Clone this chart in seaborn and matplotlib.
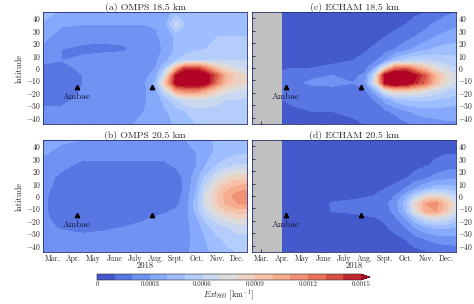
import numpy as np
import matplotlib
matplotlib.use("Agg")
import matplotlib.pyplot as plt
import seaborn as sns

# ---------------- data (extinction in units of 1e-4 km^-1) ----------------
lats = [45, 35, 25, 15, 6, 0, -6, -12, -18, -25, -35, -45]
omps_days = [46, 74, 105, 135, 166, 196, 213, 227, 244, 258, 274, 288, 305, 319, 335, 349]
echam_days = [91, 105, 135, 166, 196, 213, 227, 244, 258, 274, 288, 305, 319, 335, 349]

month_ticks = [60, 91, 121, 152, 182, 213, 244, 274, 305, 335]
month_labels = ["Mar.", "Apr.", "May", "June", "July", "Aug.", "Sept.", "Oct.", "Nov.", "Dec."]
lat_ticks = [-40, -30, -20, -10, 0, 10, 20, 30, 40]
eruption_days = [96, 208]
eruption_lats = [-15.4, -15.4]
cbar_ticks = [0, 0.0003, 0.0006, 0.0009, 0.0012, 0.0015]
cbar_labels = ["0", "0.0003", "0.0006", "0.0009", "0.0012", "0.0015"]

omps_185 = [
    [4.5, 3.8, 3.3, 3.2, 3.2, 3.2, 3.3, 3.6, 4.3, 4.5, 4.5, 4.5, 4.5, 4.5, 4.5, 4.5],
    [3.8, 3.1, 3.0, 3.0, 3.0, 3.0, 3.1, 3.6, 6.5, 4.8, 4.5, 4.5, 4.6, 4.6, 4.6, 4.6],
    [3.2, 2.6, 2.3, 2.2, 2.2, 2.5, 2.8, 3.3, 4.2, 4.5, 4.6, 4.8, 5.0, 5.0, 5.0, 5.0],
    [2.8, 2.0, 1.8, 1.8, 1.9, 2.4, 2.6, 3.2, 4.2, 4.6, 4.8, 5.0, 5.3, 5.5, 5.5, 5.5],
    [2.4, 2.0, 2.2, 2.4, 2.4, 2.5, 2.8, 3.6, 5.0, 5.5, 6.0, 6.0, 6.0, 6.0, 6.0, 6.0],
    [1.6, 1.6, 2.3, 2.5, 2.5, 2.5, 3.0, 5.0, 10.0, 14.0, 14.0, 12.0, 9.0, 8.0, 7.0, 6.5],
    [1.3, 1.3, 2.0, 2.5, 2.5, 2.6, 3.5, 7.0, 15.5, 17.0, 17.0, 16.0, 13.0, 10.0, 8.5, 8.0],
    [1.3, 1.3, 2.0, 2.5, 2.5, 2.8, 4.2, 9.0, 16.0, 17.0, 17.0, 16.0, 12.0, 9.5, 8.5, 8.0],
    [1.4, 1.3, 2.1, 2.5, 2.5, 2.8, 3.6, 6.5, 11.0, 12.0, 12.0, 10.5, 8.5, 7.5, 7.0, 6.5],
    [1.6, 1.6, 2.3, 2.5, 2.6, 2.9, 3.3, 4.5, 6.0, 7.0, 7.0, 7.0, 6.5, 6.0, 6.0, 5.8],
    [2.3, 2.3, 2.5, 2.6, 2.7, 3.0, 3.2, 3.8, 4.5, 5.0, 5.5, 5.5, 5.5, 5.5, 5.5, 5.5],
    [2.6, 2.6, 2.7, 2.8, 2.9, 3.1, 3.3, 3.6, 4.2, 4.5, 5.0, 5.0, 5.0, 5.0, 5.0, 5.0],
]

omps_205 = [
    [3.6, 3.2, 3.0, 2.8, 2.6, 2.6, 2.6, 2.6, 2.8, 3.0, 3.3, 3.7, 4.2, 4.5, 4.6, 4.6],
    [3.2, 2.6, 2.3, 2.2, 2.2, 2.2, 2.2, 2.2, 2.3, 2.6, 3.0, 3.6, 4.2, 4.5, 4.8, 4.8],
    [2.5, 2.2, 1.8, 1.9, 1.9, 1.9, 1.9, 1.9, 2.1, 2.4, 3.0, 4.0, 5.0, 5.5, 6.0, 6.0],
    [2.3, 1.8, 1.6, 1.6, 1.6, 1.6, 1.6, 1.6, 1.7, 2.2, 3.6, 5.2, 7.0, 8.0, 8.5, 8.5],
    [2.2, 1.7, 1.5, 1.5, 1.5, 1.5, 1.5, 1.5, 1.6, 2.2, 4.0, 6.5, 8.5, 9.8, 10.5, 10.8],
    [2.1, 1.7, 1.5, 1.5, 1.5, 1.5, 1.5, 1.5, 1.7, 2.3, 4.4, 7.0, 9.0, 10.5, 11.5, 11.8],
    [2.1, 1.7, 1.5, 1.5, 1.5, 1.5, 1.5, 1.6, 1.8, 2.5, 4.6, 7.0, 9.0, 10.2, 11.0, 11.2],
    [2.1, 1.7, 1.5, 1.5, 1.5, 1.6, 1.7, 1.9, 2.1, 2.6, 4.4, 6.5, 8.0, 9.0, 9.5, 9.5],
    [2.1, 1.8, 1.6, 1.6, 1.7, 1.9, 2.1, 2.2, 2.3, 2.7, 3.8, 5.5, 6.8, 7.5, 8.0, 8.0],
    [2.2, 1.9, 1.8, 1.9, 2.0, 2.2, 2.3, 2.3, 2.4, 2.7, 3.4, 4.6, 5.5, 6.0, 6.5, 6.5],
    [2.4, 2.3, 2.2, 2.2, 2.3, 2.3, 2.3, 2.4, 2.5, 2.8, 3.2, 4.0, 4.8, 5.2, 5.5, 5.5],
    [2.6, 2.5, 2.4, 2.4, 2.4, 2.5, 2.5, 2.6, 2.7, 2.9, 3.2, 3.8, 4.4, 4.8, 5.0, 5.0],
]

echam_185 = [
    [0.3, 0.3, 0.3, 0.3, 0.3, 0.3, 0.4, 0.5, 0.6, 0.7, 0.8, 1.0, 1.3, 1.7, 2.0],
    [0.3, 0.3, 0.3, 0.4, 0.4, 0.5, 0.6, 0.7, 0.8, 1.0, 1.3, 1.7, 2.2, 2.6, 2.8],
    [0.4, 0.4, 0.4, 0.5, 0.6, 0.7, 0.8, 1.0, 1.2, 1.6, 2.0, 2.5, 3.0, 3.3, 3.5],
    [0.5, 0.5, 0.6, 0.7, 0.8, 0.9, 1.1, 1.5, 2.0, 2.6, 3.2, 3.8, 4.2, 4.4, 4.5],
    [0.7, 0.7, 0.8, 0.9, 1.0, 1.2, 1.6, 3.0, 4.5, 5.5, 6.0, 6.0, 5.8, 5.5, 5.3],
    [0.9, 1.0, 1.0, 1.1, 1.2, 1.5, 3.0, 8.0, 12.0, 13.0, 11.0, 9.0, 7.5, 6.5, 6.0],
    [1.2, 1.4, 1.8, 2.0, 1.8, 2.2, 6.0, 16.0, 18.0, 17.5, 15.5, 13.0, 10.0, 8.0, 7.0],
    [1.5, 1.7, 2.2, 2.3, 2.0, 2.5, 6.5, 15.5, 17.5, 17.0, 14.5, 12.5, 9.5, 7.8, 6.8],
    [1.3, 1.5, 1.6, 1.6, 1.6, 1.8, 3.5, 7.5, 9.0, 9.0, 8.5, 7.5, 6.8, 6.0, 5.5],
    [1.0, 1.1, 1.2, 1.3, 1.4, 1.5, 2.0, 3.5, 4.5, 5.0, 5.2, 5.2, 5.0, 4.8, 4.5],
    [0.8, 0.9, 1.0, 1.0, 1.1, 1.2, 1.4, 1.8, 2.2, 2.8, 3.2, 3.5, 3.5, 3.5, 3.5],
    [0.6, 0.7, 0.8, 0.9, 0.9, 1.0, 1.1, 1.2, 1.5, 1.8, 2.1, 2.4, 2.6, 2.8, 2.8],
]

echam_205 = [
    [0.3, 0.3, 0.3, 0.3, 0.3, 0.3, 0.3, 0.3, 0.3, 0.35, 0.4, 0.5, 0.6, 0.7, 0.8],
    [0.3, 0.3, 0.3, 0.3, 0.3, 0.3, 0.3, 0.3, 0.3, 0.4, 0.5, 0.6, 0.8, 0.9, 0.9],
    [0.3, 0.3, 0.3, 0.3, 0.3, 0.3, 0.3, 0.3, 0.4, 0.5, 0.7, 0.9, 1.2, 1.5, 1.6],
    [0.3, 0.3, 0.3, 0.3, 0.3, 0.3, 0.3, 0.4, 0.6, 0.9, 1.3, 1.8, 2.3, 2.6, 2.8],
    [0.3, 0.3, 0.3, 0.4, 0.5, 0.6, 0.7, 1.0, 1.3, 2.0, 3.0, 4.0, 4.5, 4.5, 4.3],
    [0.3, 0.3, 0.4, 0.6, 0.8, 0.9, 1.0, 1.3, 2.0, 3.5, 5.5, 7.5, 8.0, 7.0, 6.0],
    [0.3, 0.4, 0.5, 1.1, 1.2, 1.3, 1.4, 1.7, 2.5, 4.5, 8.0, 11.0, 11.5, 9.5, 7.5],
    [0.3, 0.4, 0.5, 1.05, 1.1, 1.15, 1.2, 1.6, 2.3, 4.2, 7.5, 10.5, 11.0, 9.0, 7.0],
    [0.3, 0.3, 0.4, 0.6, 0.8, 0.9, 0.95, 1.1, 1.8, 3.0, 4.8, 6.5, 7.0, 6.5, 5.5],
    [0.3, 0.3, 0.3, 0.4, 0.5, 0.6, 0.7, 0.9, 1.3, 2.0, 3.0, 3.8, 4.2, 4.2, 4.0],
    [0.3, 0.3, 0.3, 0.3, 0.3, 0.3, 0.4, 0.5, 0.7, 1.0, 1.5, 2.0, 2.3, 2.5, 2.5],
    [0.3, 0.3, 0.3, 0.3, 0.3, 0.3, 0.3, 0.3, 0.4, 0.5, 0.7, 0.9, 1.1, 1.3, 1.4],
]

panels = [
    ("(a) OMPS 18.5 km", omps_days, omps_185),
    ("(c) ECHAM 18.5 km", echam_days, echam_185),
    ("(b) OMPS 20.5 km", omps_days, omps_205),
    ("(d) ECHAM 20.5 km", echam_days, echam_205),
]

# ---------------- style ----------------
sns.set_theme(style="ticks")
plt.rcParams["font.family"] = ["cmr10", "DejaVu Serif"]
plt.rcParams["mathtext.fontset"] = "cm"
plt.rcParams["axes.formatter.use_mathtext"] = True
plt.rcParams["axes.unicode_minus"] = True
FS_TITLE = 7
FS_TICK = 5.5
FS_LABEL = 6.2

W, H = 474, 304
fig = plt.figure(figsize=(W / 100, H / 100), dpi=100)

def px_axes(x0, y0, x1, y1):
    return fig.add_axes([x0 / W, 1 - y1 / H, (x1 - x0) / W, (y1 - y0) / H])

boxes = [(43, 12, 247, 124), (252, 12, 456, 124), (43, 140, 247, 252), (252, 140, 456, 252)]
cmap = sns.color_palette("coolwarm", as_cmap=True)
levels = np.arange(0, 16) * 1e-4
xmin, xmax = 46, 349

cs = None
for i, ((title, days, field), box) in enumerate(zip(panels, boxes)):
    ax = px_axes(*box)
    ax.set_facecolor("#c0c0c0")
    X, Y = np.meshgrid(days, lats)
    Z = np.array(field) * 1e-4
    cs = ax.contourf(X, Y, Z, levels=levels, cmap=cmap, extend="max")
    ax.set_xlim(xmin, xmax)
    ax.set_ylim(-45, 45)
    ax.plot(eruption_days, eruption_lats, linestyle="none", marker="^",
            color="black", markersize=3.2)
    ax.text(eruption_days[0], -23.5, "Ambae", ha="center", va="center",
            fontsize=6.5, color="#101030")
    ax.set_title(title, fontsize=FS_TITLE, pad=1.5)
    ax.set_xticks(month_ticks)
    ax.set_yticks(lat_ticks)
    right = (i % 2 == 1)
    bottom = (i >= 2)
    ax.tick_params(axis="both", direction="in", length=2.5, width=0.6,
                   labelsize=FS_TICK, left=True, right=True, top=False, bottom=True,
                   labelleft=not right, labelright=right, pad=1.5)
    if bottom:
        ax.set_xticklabels(month_labels, fontsize=FS_TICK)
        ax.set_xlabel("2018", fontsize=FS_LABEL, labelpad=-0.5)
    else:
        ax.set_xticklabels([])
    if not right:
        ax.set_ylabel("latitude", fontsize=FS_LABEL, labelpad=1)
    for sp in ax.spines.values():
        sp.set_linewidth(0.6)
        sp.set_color("#203070")

cax = px_axes(97, 274, 370, 280)
cb = fig.colorbar(cs, cax=cax, orientation="horizontal", ticks=cbar_ticks,
                  extendfrac=0.035)
cb.ax.set_xticklabels(cbar_labels)
cb.ax.tick_params(labelsize=5, direction="in", length=1.5, width=0.4, pad=1)
cb.outline.set_linewidth(0.4)
cb.set_label(r"$Ext_{869}$ [km$^{-1}$]", fontsize=6, labelpad=0)

fig.savefig("out.png", dpi=100)
